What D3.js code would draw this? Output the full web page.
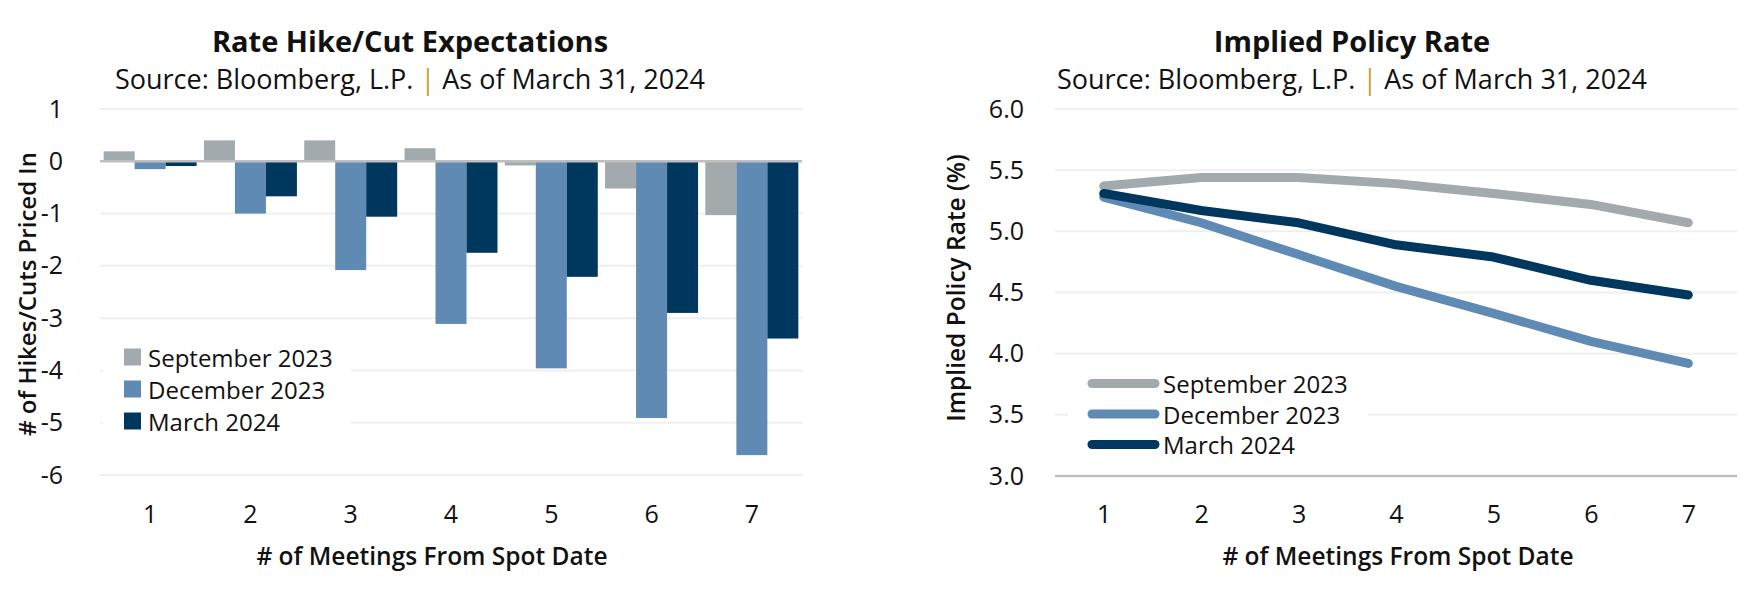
<!DOCTYPE html>
<html>
<head>
<meta charset="utf-8">
<script src="https://cdn.jsdelivr.net/npm/d3@7"></script>
<style>
  body { margin: 0; background: #fff; }
  svg { font-family: "Open Sans", "Noto Sans", sans-serif; }
</style>
</head>
<body>
<div id="chart"></div>
<script>
// Data
const meetings = [1, 2, 3, 4, 5, 6, 7];
const seriesNames = ['September 2023', 'December 2023', 'March 2024'];
const colors = ['#a3aaad', '#5e8ab4', '#00375f'];

// left panel: # of hikes/cuts priced in
const hikesSep = [0.19, 0.40, 0.40, 0.25, -0.08, -0.52, -1.03];
const hikesDec = [-0.15, -1.00, -2.08, -3.11, -3.96, -4.91, -5.62];
const hikesMar = [-0.09, -0.67, -1.06, -1.75, -2.21, -2.90, -3.39];
const hikesTicks = [1, 0, -1, -2, -3, -4, -5, -6];

// right panel: implied policy rate (%)
const rateSep = [5.37, 5.44, 5.44, 5.39, 5.31, 5.22, 5.07];
const rateDec = [5.28, 5.07, 4.81, 4.55, 4.33, 4.10, 3.92];
const rateMar = [5.31, 5.17, 5.07, 4.89, 4.79, 4.60, 4.48];
const rateTicks = [6.0, 5.5, 5.0, 4.5, 4.0, 3.5, 3.0];

const W = 1740, H = 595;
const gold = '#c9a227';
const tickSize = 25, legendSize = 24, axisTitleSize = 24.5;

const svg = d3.select('#chart')
  .append('svg')
  .attr('width', W)
  .attr('height', H);

// titles and subtitles
function addHeader(cx, title) {
  svg.append('text')
    .attr('x', cx)
    .attr('y', 52)
    .attr('text-anchor', 'middle')
    .attr('font-size', 29)
    .attr('font-weight', 700)
    .attr('fill', '#111')
    .text(title);

  const sub = svg.append('text')
    .attr('x', cx)
    .attr('y', 89)
    .attr('text-anchor', 'middle')
    .attr('font-size', 27)
    .attr('fill', '#111');
  sub.append('tspan').text('Source: Bloomberg, L.P. ');
  sub.append('tspan').attr('fill', gold).text('|');
  sub.append('tspan').text(' As of March 31, 2024');
}

addHeader(410, 'Rate Hike/Cut Expectations');
addHeader(1352, 'Implied Policy Rate');

// ---------- Left: bar chart ----------
const left = { x0: 100, x1: 802, yTop: 109, yBot: 475 };

const xBand = d3.scaleBand()
  .domain(meetings)
  .range([left.x0, left.x1])
  .paddingInner(0.073)
  .paddingOuter(0.0365);

const xInner = d3.scaleBand()
  .domain(seriesNames)
  .range([0, xBand.bandwidth()]);

const yBar = d3.scaleLinear()
  .domain([-6, 1])
  .range([left.yBot, left.yTop]);

// gridlines
svg.append('g')
  .selectAll('line')
  .data(hikesTicks.filter(d => d !== 0))
  .enter()
  .append('line')
  .attr('x1', left.x0)
  .attr('x2', left.x1)
  .attr('y1', d => yBar(d))
  .attr('y2', d => yBar(d))
  .attr('stroke', '#efefef')
  .attr('stroke-width', 2);

const barSeries = [hikesSep, hikesDec, hikesMar];
const barData = [];
barSeries.forEach((vals, i) => {
  vals.forEach((v, j) => barData.push({ m: meetings[j], s: seriesNames[i], v: v, c: colors[i] }));
});

svg.append('g')
  .selectAll('rect')
  .data(barData)
  .enter()
  .append('rect')
  .attr('x', d => xBand(d.m) + xInner(d.s))
  .attr('width', xInner.bandwidth())
  .attr('y', d => yBar(Math.max(0, d.v)))
  .attr('height', d => Math.abs(yBar(d.v) - yBar(0)))
  .attr('fill', d => d.c);

// zero line
svg.append('line')
  .attr('x1', left.x0)
  .attr('x2', left.x1)
  .attr('y1', yBar(0))
  .attr('y2', yBar(0))
  .attr('stroke', '#bfbfbf')
  .attr('stroke-width', 2.5);

// y axis (labels only)
const yAxisL = svg.append('g')
  .attr('transform', `translate(${left.x0 - 34},0)`)
  .call(d3.axisLeft(yBar).tickValues(hikesTicks).tickSize(0).tickFormat(d3.format('d')));
yAxisL.select('.domain').remove();
yAxisL.selectAll('text')
  .attr('font-family', '"Open Sans", sans-serif')
  .attr('font-size', tickSize)
  .attr('fill', '#111')
  .text(d => d < 0 ? '-' + Math.abs(d) : d);

// x axis labels
const xAxisL = svg.append('g')
  .attr('transform', `translate(0,${514})`)
  .call(d3.axisBottom(xBand).tickSize(0).tickPadding(0));
xAxisL.select('.domain').remove();
xAxisL.selectAll('text')
  .attr('font-family', '"Open Sans", sans-serif')
  .attr('font-size', tickSize)
  .attr('fill', '#111')
  .attr('dy', '0.35em');

svg.append('text')
  .attr('x', 432)
  .attr('y', 555)
  .attr('text-anchor', 'middle')
  .attr('dominant-baseline', 'central')
  .attr('font-size', axisTitleSize)
  .attr('font-weight', 600)
  .attr('fill', '#111')
  .text('# of Meetings From Spot Date');

svg.append('text')
  .attr('transform', 'translate(26,294) rotate(-90)')
  .attr('text-anchor', 'middle')
  .attr('dominant-baseline', 'central')
  .attr('font-size', 24)
  .attr('font-weight', 600)
  .attr('fill', '#111')
  .text('# of Hikes/Cuts Priced In');

// legend (white box hides gridlines)
svg.append('rect')
  .attr('x', left.x0 + 3)
  .attr('y', 338)
  .attr('width', 248)
  .attr('height', 100)
  .attr('fill', '#fff');

const legL = svg.append('g')
  .selectAll('g')
  .data(seriesNames)
  .enter()
  .append('g')
  .attr('transform', (d, i) => `translate(124,${357 + i * 32})`);
legL.append('rect')
  .attr('x', 0)
  .attr('y', -8.5)
  .attr('width', 17)
  .attr('height', 17)
  .attr('fill', (d, i) => colors[i]);
legL.append('text')
  .attr('x', 24)
  .attr('y', 0)
  .attr('dominant-baseline', 'central')
  .attr('font-size', legendSize)
  .attr('fill', '#111')
  .text(d => d);

// ---------- Right: line chart ----------
const right = { x0: 1055, x1: 1737, yTop: 109, yBot: 476 };

const xPt = d3.scalePoint()
  .domain(meetings)
  .range([right.x0, right.x1])
  .padding(0.5);

const yRate = d3.scaleLinear()
  .domain([3, 6])
  .range([right.yBot, right.yTop]);

svg.append('g')
  .selectAll('line')
  .data(rateTicks.filter(d => d !== 3))
  .enter()
  .append('line')
  .attr('x1', right.x0)
  .attr('x2', right.x1)
  .attr('y1', d => yRate(d))
  .attr('y2', d => yRate(d))
  .attr('stroke', '#efefef')
  .attr('stroke-width', 2);

svg.append('line')
  .attr('x1', right.x0)
  .attr('x2', right.x1)
  .attr('y1', yRate(3))
  .attr('y2', yRate(3))
  .attr('stroke', '#bfbfbf')
  .attr('stroke-width', 2.5);

// legend box
svg.append('rect')
  .attr('x', 1068)
  .attr('y', 366)
  .attr('width', 300)
  .attr('height', 94)
  .attr('fill', '#fff');

const line = d3.line()
  .x((d, i) => xPt(meetings[i]))
  .y(d => yRate(d));

const lineSeries = [rateSep, rateDec, rateMar];
svg.append('g')
  .selectAll('path')
  .data(lineSeries)
  .enter()
  .append('path')
  .attr('d', d => line(d))
  .attr('fill', 'none')
  .attr('stroke', (d, i) => colors[i])
  .attr('stroke-width', 9)
  .attr('stroke-linecap', 'round')
  .attr('stroke-linejoin', 'round');

const yAxisR = svg.append('g')
  .attr('transform', `translate(${1024},0)`)
  .call(d3.axisLeft(yRate).tickValues(rateTicks).tickSize(0).tickPadding(0).tickFormat(d3.format('.1f')));
yAxisR.select('.domain').remove();
yAxisR.selectAll('text')
  .attr('font-family', '"Open Sans", sans-serif')
  .attr('font-size', tickSize)
  .attr('fill', '#111');

const xAxisR = svg.append('g')
  .attr('transform', `translate(0,${514})`)
  .call(d3.axisBottom(xPt).tickSize(0).tickPadding(0));
xAxisR.select('.domain').remove();
xAxisR.selectAll('text')
  .attr('font-family', '"Open Sans", sans-serif')
  .attr('font-size', tickSize)
  .attr('fill', '#111')
  .attr('dy', '0.35em');

svg.append('text')
  .attr('x', 1398)
  .attr('y', 555)
  .attr('text-anchor', 'middle')
  .attr('dominant-baseline', 'central')
  .attr('font-size', axisTitleSize)
  .attr('font-weight', 600)
  .attr('fill', '#111')
  .text('# of Meetings From Spot Date');

svg.append('text')
  .attr('transform', 'translate(955,288) rotate(-90)')
  .attr('text-anchor', 'middle')
  .attr('dominant-baseline', 'central')
  .attr('font-size', 24.5)
  .attr('font-weight', 600)
  .attr('fill', '#111')
  .text('Implied Policy Rate (%)');

const legR = svg.append('g')
  .selectAll('g')
  .data(seriesNames)
  .enter()
  .append('g')
  .attr('transform', (d, i) => `translate(1092,${383.5 + i * 30.5})`);
legR.append('line')
  .attr('x1', 0)
  .attr('x2', 63)
  .attr('stroke', (d, i) => colors[i])
  .attr('stroke-width', 9)
  .attr('stroke-linecap', 'round');
legR.append('text')
  .attr('x', 71)
  .attr('y', 0)
  .attr('dominant-baseline', 'central')
  .attr('font-size', legendSize)
  .attr('fill', '#111')
  .text(d => d);
</script>
</body>
</html>
